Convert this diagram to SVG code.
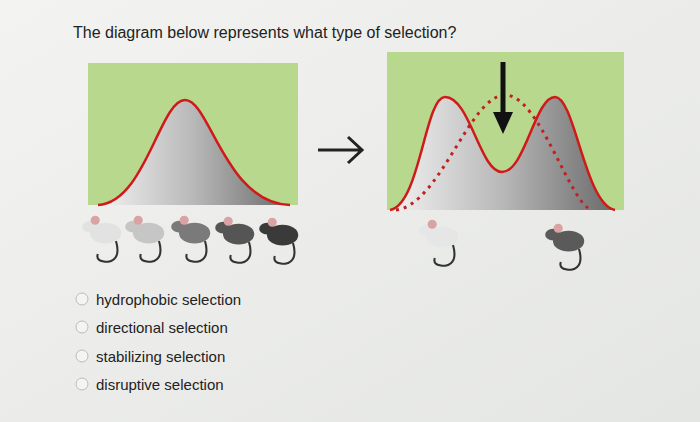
<svg xmlns="http://www.w3.org/2000/svg" width="700" height="422" viewBox="0 0 700 422">
<defs>
<linearGradient id="g" x1="0" x2="1" y1="0" y2="0"><stop offset="0" stop-color="#f2f2f2"/><stop offset="0.5" stop-color="#b8b8b8"/><stop offset="1" stop-color="#6a6a6a"/></linearGradient>
<linearGradient id="bg" x1="0" x2="1" y1="0" y2="1"><stop offset="0" stop-color="#f3f3f1"/><stop offset="1" stop-color="#e4e6e4"/></linearGradient>
<g id="mouse"><path d="M10,10 q4,14 -6,16 q-10,0 -8,-6" fill="none" stroke="#333" stroke-width="1.6"/><ellipse cx="2" cy="4" rx="12" ry="8"/><ellipse cx="-10" cy="-1" rx="6" ry="4.5"/><circle cx="-6" cy="-6" r="3.5" fill="#d9a3a3"/></g>
</defs>
<style>.t{font-family:"Liberation Sans",Arial,sans-serif;font-size:16px;fill:#222}.o{font-family:"Liberation Sans",Arial,sans-serif;font-size:15px;fill:#222}.r{fill:#f4f4f4;stroke:#bbb;stroke-width:1}.c{fill:none;stroke:#d01a1a;stroke-width:2.5}</style>
<rect width="700" height="422" fill="url(#bg)"/>
<text class="t" x="73" y="38">The diagram below represents what type of selection?</text>
<g id="left-panel"><rect x="88" y="63" width="210" height="142" fill="#b8d88e"/>
<path d="M98,205 C145,203 160,100 185,100 C210,100 225,203 290,205 Z" fill="url(#g)"/>
<path class="c" d="M98,205 C145,203 160,100 185,100 C210,100 225,203 290,205"/></g>
<g id="right-panel"><rect x="387" y="52" width="237" height="158" fill="#b8d88e"/>
<path d="M390,210 C420,205 425,97 445,97 C470,97 480,172 502,172 C525,172 535,97 555,97 C575,97 585,205 615,210 Z" fill="url(#g)"/>
<path class="c" d="M390,210 C420,205 425,97 445,97 C470,97 480,172 502,172 C525,172 535,97 555,97 C575,97 585,205 615,210"/>
<path d="M396,210 C440,205 470,95 505,95 C540,95 570,205 592,210" fill="none" stroke="#c02020" stroke-width="3" stroke-dasharray="3,5"/>
<path d="M503,62 V115" stroke="#111" stroke-width="5"/><polygon points="493,112 513,112 503,134" fill="#111"/></g>
<g id="arrow"><path d="M318,150 H362 M348,137 L362,150 L348,163" fill="none" stroke="#222" stroke-width="3"/></g>
<g id="mice">
<use href="#mouse" transform="translate(103,228) scale(1.3)" fill="#e2e2e2"/>
<use href="#mouse" transform="translate(146,228) scale(1.3)" fill="#c6c6c6"/>
<use href="#mouse" transform="translate(192,228) scale(1.3)" fill="#7a7a7a"/>
<use href="#mouse" transform="translate(236,229) scale(1.3)" fill="#555"/>
<use href="#mouse" transform="translate(280,230) scale(1.3)" fill="#3a3a3a"/>
<use href="#mouse" transform="translate(440,232) scale(1.3)" fill="#e6e6e6"/>
<use href="#mouse" transform="translate(566,236) scale(1.3)" fill="#5a5a5a"/>
</g>
<g id="options">
<circle class="r" cx="82" cy="299" r="6"/><text class="o" x="96" y="305">hydrophobic selection</text>
<circle class="r" cx="82" cy="327" r="6"/><text class="o" x="96" y="333">directional selection</text>
<circle class="r" cx="82" cy="356" r="6"/><text class="o" x="96" y="362">stabilizing selection</text>
<circle class="r" cx="82" cy="384" r="6"/><text class="o" x="96" y="390">disruptive selection</text>
</g>
</svg>
